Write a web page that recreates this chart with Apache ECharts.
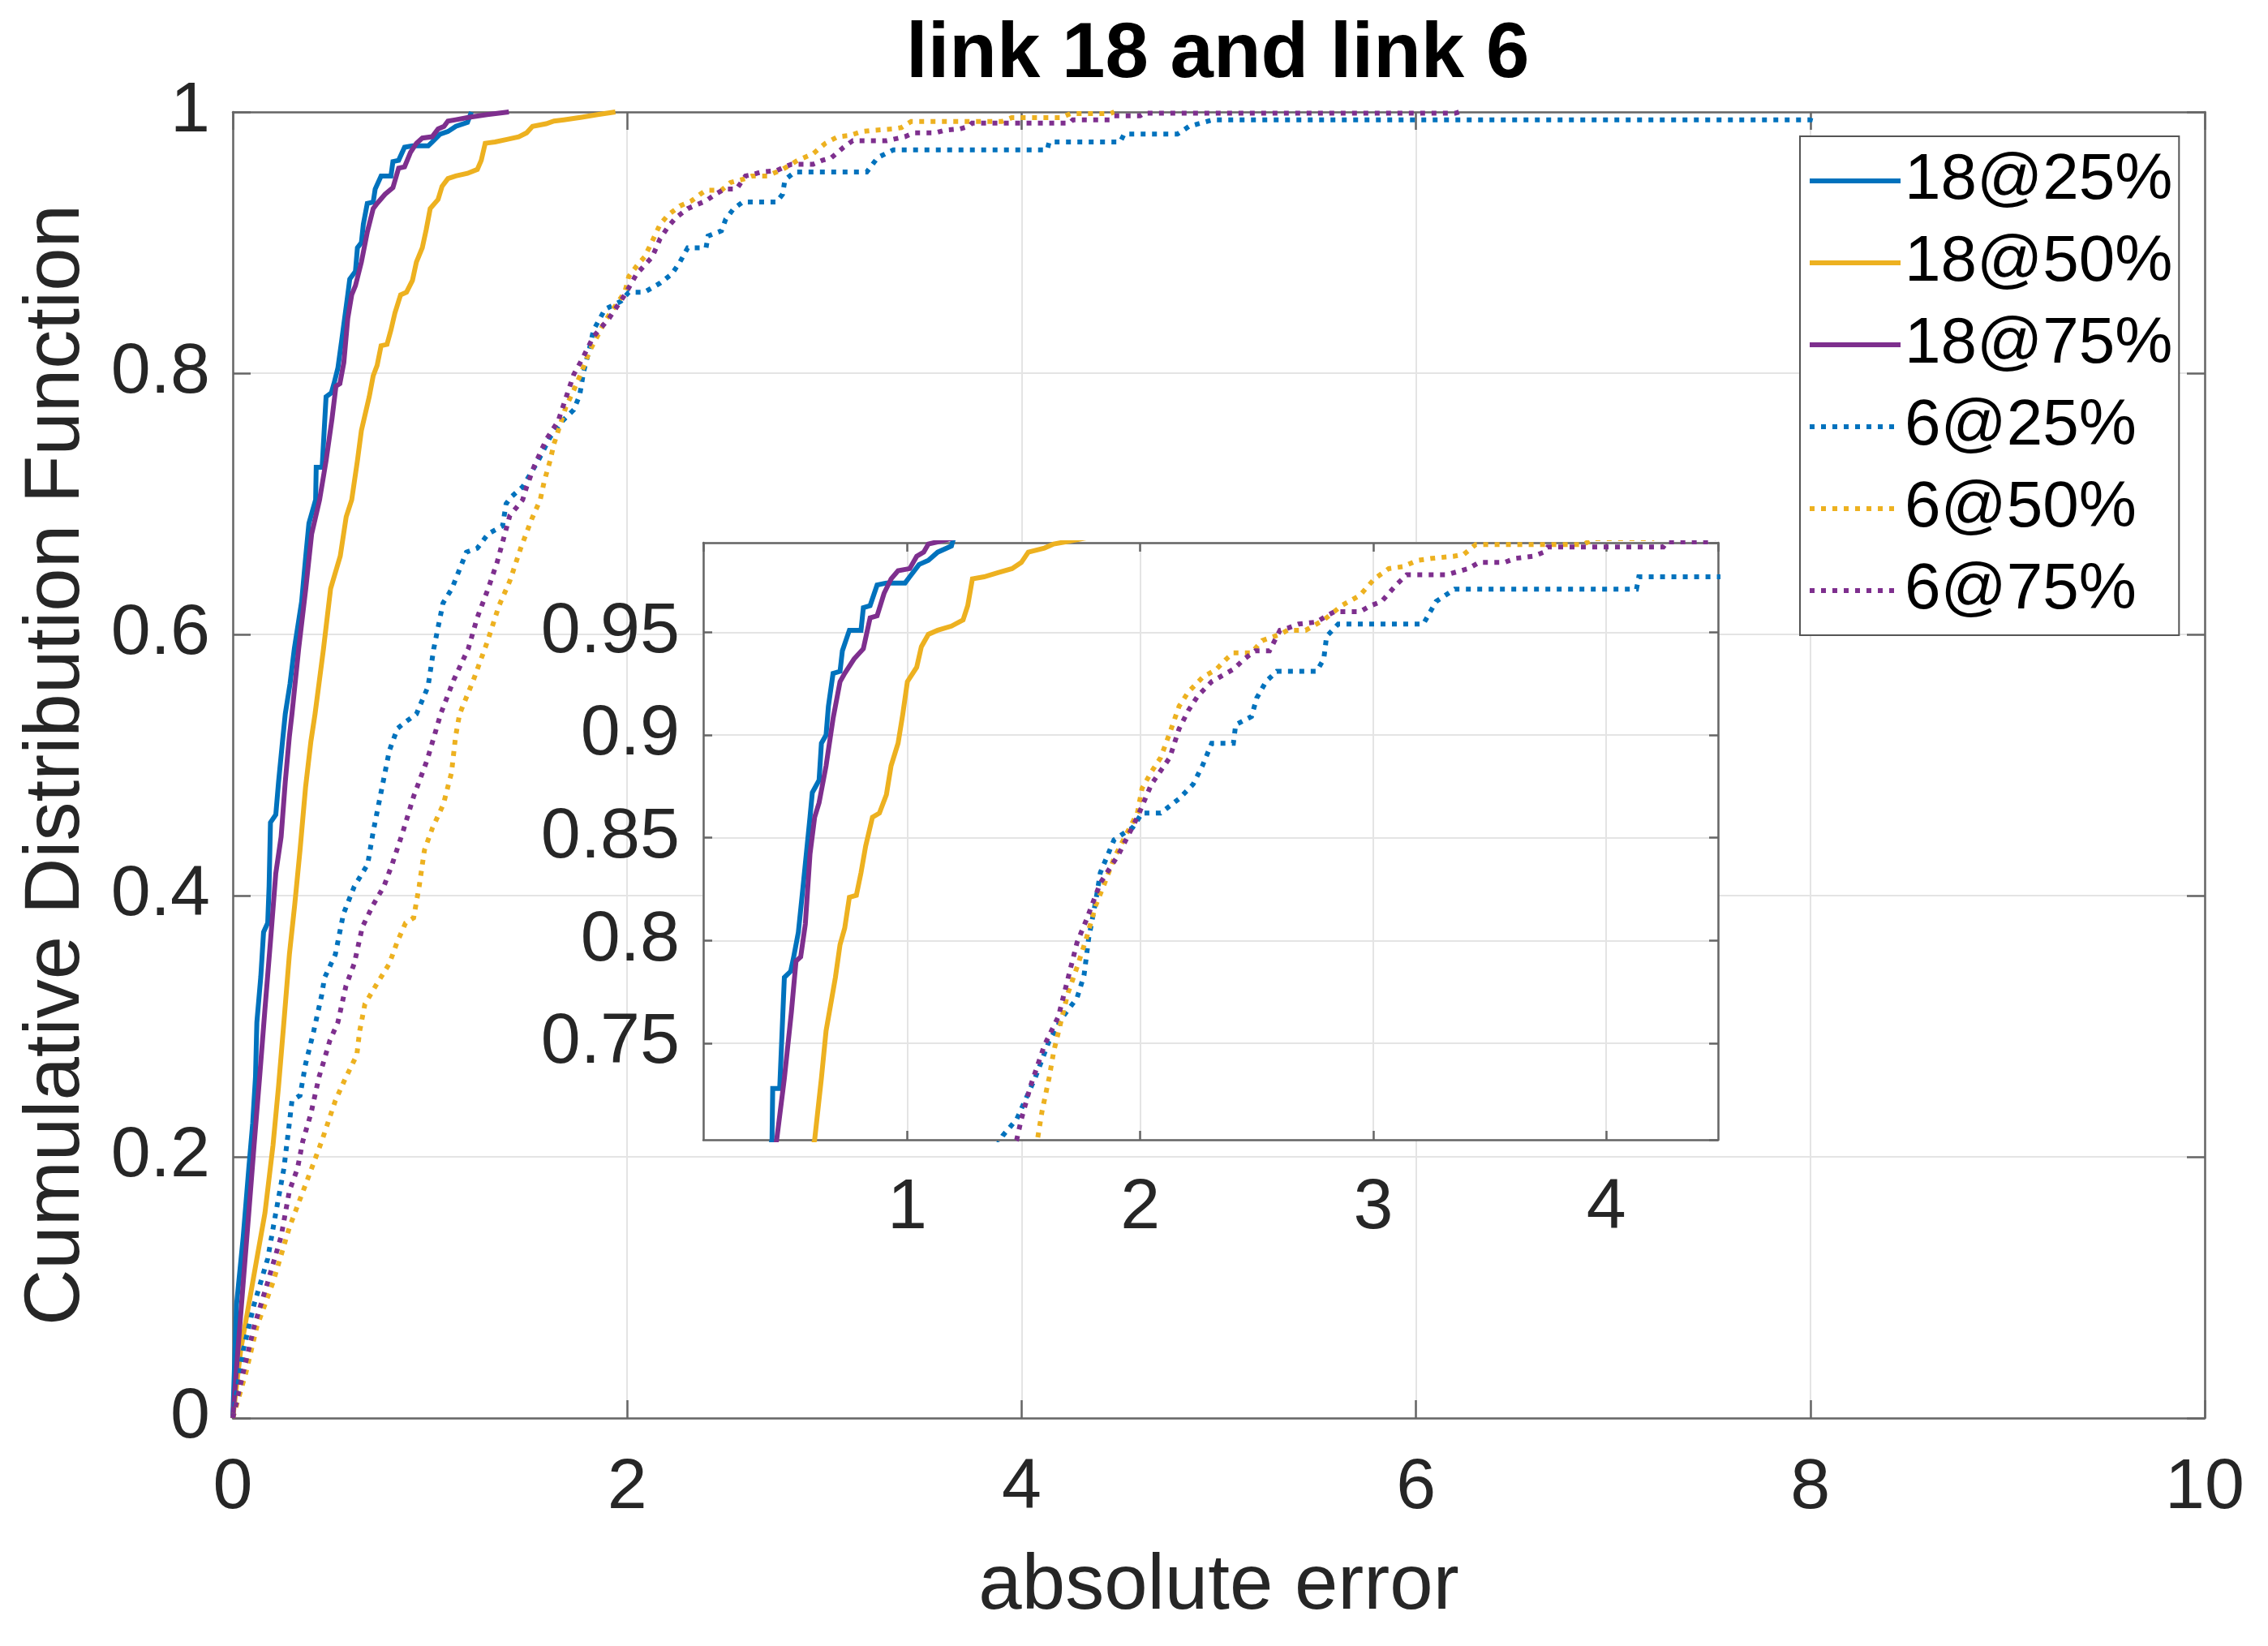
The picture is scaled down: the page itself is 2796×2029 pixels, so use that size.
<!DOCTYPE html>
<html>
<head>
<meta charset="utf-8">
<script src="https://cdn.jsdelivr.net/npm/echarts@6/dist/echarts.min.js"></script>
<style>html,body{margin:0;padding:0;background:#fff}#c{width:2796px;height:2029px}</style>
</head>
<body>
<div id="c"></div>
<script>
// ---- data (absolute error, CDF) ----
const seriesNames = ['18@25%', '18@50%', '18@75%', '6@25%', '6@50%', '6@75%'];

const cdf18at25 = [[0,0],[0.019,0.087],[0.053,0.139],[0.081,0.191],[0.101,0.226],[0.115,0.261],[0.122,0.303],[0.142,0.338],[0.156,0.372],[0.177,0.379],[0.184,0.407],[0.191,0.456],[0.218,0.462],[0.232,0.487],[0.252,0.518],[0.266,0.539],[0.29,0.562],[0.312,0.589],[0.349,0.625],[0.37,0.66],[0.386,0.685],[0.42,0.703],[0.423,0.728],[0.453,0.728],[0.473,0.782],[0.50,0.785],[0.513,0.792],[0.533,0.804],[0.553,0.826],[0.583,0.86],[0.593,0.872],[0.622,0.878],[0.632,0.896],[0.652,0.90],[0.662,0.914],[0.682,0.930],[0.712,0.931],[0.722,0.941],[0.752,0.951],[0.802,0.951],[0.812,0.962],[0.841,0.963],[0.871,0.973],[0.911,0.974],[0.991,0.974],[1.011,0.977],[1.051,0.983],[1.091,0.985],[1.131,0.989],[1.19,0.992],[1.21,1.0]];

const cdf18at50 = [[0,0],[0.04,0.052],[0.081,0.087],[0.122,0.122],[0.163,0.157],[0.204,0.209],[0.232,0.254],[0.259,0.303],[0.287,0.355],[0.314,0.393],[0.341,0.435],[0.369,0.483],[0.396,0.518],[0.417,0.539],[0.46,0.589],[0.496,0.635],[0.545,0.66],[0.575,0.69],[0.603,0.703],[0.632,0.733],[0.652,0.756],[0.692,0.782],[0.712,0.798],[0.732,0.806],[0.752,0.821],[0.782,0.822],[0.802,0.833],[0.822,0.846],[0.851,0.86],[0.881,0.862],[0.911,0.871],[0.931,0.885],[0.961,0.896],[0.981,0.91],[1.001,0.926],[1.041,0.933],[1.061,0.943],[1.091,0.949],[1.131,0.951],[1.19,0.953],[1.24,0.956],[1.26,0.963],[1.28,0.976],[1.33,0.977],[1.39,0.979],[1.45,0.981],[1.49,0.984],[1.52,0.989],[1.589,0.991],[1.629,0.993],[1.679,0.994],[1.77,0.996],[1.85,0.998],[1.94,1.0]];

const cdf18at75 = [[0,0],[0.026,0.052],[0.053,0.104],[0.081,0.157],[0.108,0.209],[0.136,0.261],[0.163,0.313],[0.191,0.365],[0.218,0.417],[0.245,0.445],[0.266,0.487],[0.287,0.522],[0.300,0.539],[0.334,0.589],[0.37,0.635],[0.40,0.677],[0.44,0.703],[0.473,0.733],[0.503,0.765],[0.523,0.79],[0.543,0.792],[0.563,0.808],[0.583,0.842],[0.603,0.86],[0.622,0.867],[0.652,0.885],[0.682,0.908],[0.712,0.926],[0.732,0.93],[0.772,0.937],[0.812,0.942],[0.841,0.957],[0.871,0.958],[0.901,0.969],[0.931,0.976],[0.961,0.98],[1.011,0.981],[1.041,0.987],[1.071,0.989],[1.091,0.993],[1.13,0.994],[1.2,0.996],[1.29,0.998],[1.40,1.0]];

const cdf6at25 = [[0,0],[0.053,0.052],[0.108,0.087],[0.177,0.122],[0.218,0.157],[0.259,0.191],[0.287,0.226],[0.30,0.243],[0.341,0.247],[0.369,0.271],[0.41,0.296],[0.451,0.324],[0.465,0.337],[0.52,0.355],[0.561,0.386],[0.616,0.407],[0.684,0.424],[0.712,0.449],[0.753,0.48],[0.794,0.511],[0.835,0.528],[0.876,0.533],[0.931,0.539],[0.99,0.56],[1.019,0.589],[1.066,0.624],[1.111,0.635],[1.185,0.663],[1.24,0.666],[1.295,0.677],[1.368,0.683],[1.386,0.70],[1.41,0.705],[1.47,0.713],[1.549,0.733],[1.609,0.751],[1.669,0.763],[1.729,0.772],[1.759,0.783],[1.779,0.801],[1.809,0.819],[1.829,0.833],[1.888,0.849],[1.968,0.855],[2.008,0.862],[2.088,0.862],[2.167,0.869],[2.227,0.876],[2.267,0.885],[2.307,0.896],[2.40,0.896],[2.41,0.905],[2.478,0.909],[2.50,0.918],[2.54,0.926],[2.586,0.931],[2.757,0.931],[2.788,0.937],[2.80,0.948],[2.85,0.954],[3.215,0.954],[3.27,0.965],[3.35,0.971],[4.13,0.971],[4.14,0.977],[4.50,0.977],[4.52,0.983],[4.79,0.983],[4.85,0.989],[4.97,0.994],[8.0,0.994],[8.01,1.0]];

const cdf6at50 = [[0,0],[0.067,0.035],[0.122,0.07],[0.204,0.104],[0.287,0.146],[0.382,0.184],[0.451,0.212],[0.52,0.243],[0.574,0.261],[0.629,0.278],[0.643,0.296],[0.67,0.317],[0.725,0.331],[0.794,0.348],[0.835,0.365],[0.876,0.379],[0.917,0.383],[0.945,0.407],[0.972,0.435],[1.013,0.452],[1.068,0.47],[1.109,0.494],[1.13,0.522],[1.15,0.539],[1.22,0.565],[1.29,0.594],[1.35,0.622],[1.405,0.641],[1.46,0.666],[1.515,0.688],[1.559,0.703],[1.579,0.717],[1.609,0.733],[1.629,0.746],[1.659,0.76],[1.689,0.774],[1.729,0.787],[1.769,0.801],[1.809,0.817],[1.848,0.828],[1.888,0.84],[1.928,0.849],[1.988,0.862],[2.008,0.874],[2.048,0.882],[2.088,0.889],[2.127,0.901],[2.167,0.914],[2.207,0.921],[2.267,0.928],[2.327,0.932],[2.37,0.937],[2.40,0.94],[2.478,0.94],[2.524,0.946],[2.60,0.949],[2.633,0.951],[2.71,0.951],[2.788,0.956],[2.865,0.963],[2.943,0.968],[3.005,0.976],[3.067,0.981],[3.129,0.982],[3.19,0.985],[3.253,0.986],[3.345,0.987],[3.39,0.988],[3.44,0.9927],[3.9,0.9927],[3.95,0.9956],[4.2,0.9956],[4.25,0.9988],[4.45,0.9988],[4.47,1.0]];

const cdf6at75 = [[0,0],[0.053,0.035],[0.108,0.07],[0.177,0.104],[0.245,0.139],[0.287,0.174],[0.328,0.191],[0.355,0.212],[0.396,0.233],[0.437,0.261],[0.465,0.275],[0.492,0.289],[0.533,0.303],[0.574,0.331],[0.616,0.348],[0.657,0.376],[0.712,0.393],[0.766,0.407],[0.808,0.424],[0.863,0.449],[0.917,0.476],[0.986,0.504],[1.027,0.525],[1.054,0.539],[1.12,0.565],[1.194,0.589],[1.24,0.613],[1.295,0.635],[1.34,0.655],[1.405,0.691],[1.47,0.703],[1.49,0.713],[1.529,0.729],[1.589,0.749],[1.649,0.763],[1.689,0.781],[1.729,0.799],[1.769,0.81],[1.829,0.828],[1.908,0.842],[1.988,0.86],[2.048,0.876],[2.127,0.889],[2.167,0.903],[2.207,0.912],[2.247,0.919],[2.307,0.926],[2.40,0.932],[2.447,0.937],[2.494,0.941],[2.555,0.941],[2.60,0.951],[2.633,0.952],[2.68,0.954],[2.757,0.955],[2.80,0.958],[2.834,0.96],[2.943,0.96],[2.99,0.963],[3.036,0.965],[3.098,0.973],[3.144,0.978],[3.315,0.978],[3.408,0.981],[3.455,0.984],[3.563,0.984],[3.61,0.986],[3.687,0.987],[3.733,0.989],[3.749,0.9915],[4.245,0.9915],[4.26,0.994],[4.45,0.994],[4.47,0.997],[4.6,0.997],[4.62,0.999],[6.2,0.999],[6.22,1.0]];

const seriesData = [cdf18at25, cdf18at50, cdf18at75, cdf6at25, cdf6at50, cdf6at75];

// axis ranges
const mainX = {min: 0, max: 10, interval: 2};
const mainY = {min: 0, max: 1, interval: 0.2};
const insetX = {min: 0.125, max: 4.48, splitNumber: 4};
const insetY = {min: 0.703, max: 0.9936, splitNumber: 6};

// ---- styles ----
const FONT = '"Liberation Sans", Arial, Helvetica, sans-serif';
const COLORS = ['#0072BD', '#EDB120', '#7E2F8E', '#0072BD', '#EDB120', '#7E2F8E'];
const LINE_TYPES = ['solid', 'solid', 'solid', [6, 8], [6, 8], [6, 8]];
const LINE_WIDTHS = [6, 6, 6, 6, 6, 6];
const AXIS_COLOR = '#666666';
const axisLine = {show: true, onZero: false, lineStyle: {color: AXIS_COLOR, width: 2.5}};
const gridLine = {show: true, lineStyle: {color: '#e4e4e4', width: 2}};
const labelStyle = {fontSize: 88, color: '#262626', fontFamily: FONT};

function boxAxis(base, pos, grid, tickLen, z) {
  return Object.assign({
    type: 'value', gridIndex: grid, position: pos, z: z,
    axisLine: axisLine,
    axisTick: {show: true, inside: true, length: tickLen, lineStyle: {color: AXIS_COLOR, width: 2.5}},
    axisLabel: {show: false},
    splitLine: {show: false}
  }, base);
}

const xAxes = [
  Object.assign(boxAxis(mainX, 'bottom', 0, 22, 0), {
    axisLabel: Object.assign({show: true, margin: 43}, labelStyle),
    splitLine: gridLine,
    name: 'absolute error', nameLocation: 'middle', nameGap: 161,
    nameTextStyle: {fontSize: 96, color: '#262626', fontFamily: FONT}
  }),
  boxAxis(mainX, 'top', 0, 22, 0),
  Object.assign(boxAxis(insetX, 'bottom', 1, 11, 4), {
    axisLabel: Object.assign({show: true, margin: 41, showMinLabel: false, showMaxLabel: false}, labelStyle),
    splitLine: gridLine
  }),
  boxAxis(insetX, 'top', 1, 11, 4)
];

const yAxes = [
  Object.assign(boxAxis(mainY, 'left', 0, 22, 0), {
    axisLabel: Object.assign({show: true, margin: 28}, labelStyle),
    splitLine: gridLine,
    name: 'Cumulative Distribution Function', nameLocation: 'middle', nameGap: 168, nameRotate: 90,
    nameTextStyle: {fontSize: 96, color: '#262626', fontFamily: FONT}
  }),
  boxAxis(mainY, 'right', 0, 22, 0),
  Object.assign(boxAxis(insetY, 'left', 1, 11, 4), {
    axisLabel: Object.assign({show: true, margin: 29, showMinLabel: false, showMaxLabel: false}, labelStyle),
    splitLine: gridLine
  }),
  boxAxis(insetY, 'right', 1, 11, 4)
];

const series = [];
seriesNames.forEach((name, i) => {
  const base = {
    name: name, type: 'line', data: seriesData[i], symbol: 'none', showSymbol: false,
    lineStyle: {color: COLORS[i], width: LINE_WIDTHS[i], type: LINE_TYPES[i], cap: 'butt', join: 'miter'},
    itemStyle: {color: COLORS[i]},
    clip: true, animation: false
  };
  series.push(Object.assign({}, base, {xAxisIndex: 0, yAxisIndex: 0, z: 2}));
  series.push(Object.assign({}, base, {xAxisIndex: 2, yAxisIndex: 2, z: 5}));
});

const chart = echarts.init(document.getElementById('c'), null, {renderer: 'canvas', width: 2796, height: 2029});
chart.setOption({
  backgroundColor: '#ffffff',
  animation: false,
  title: {
    text: 'link 18 and link 6', left: 1117, top: 21, padding: 0,
    textStyle: {fontSize: 96, fontWeight: 'bold', color: '#000', fontFamily: FONT}
  },
  legend: {
    orient: 'vertical', left: 2219, top: 168, data: seriesNames,
    itemWidth: 112, itemHeight: 2, itemGap: 21, padding: [15, 8, 15, 9],
    itemStyle: {opacity: 0, borderWidth: 0},
    lineStyle: {width: 'inherit', type: 'inherit', color: 'inherit', cap: 'butt'},
    backgroundColor: '#ffffff', borderColor: '#555555', borderWidth: 2,
    textStyle: {fontSize: 80, color: '#000', fontFamily: FONT, lineHeight: 80},
    selectedMode: false, z: 10
  },
  grid: [
    {left: 287, top: 138, width: 2431, height: 1610, show: false},
    {left: 867, top: 669, width: 1251, height: 736, show: true, backgroundColor: '#ffffff', borderWidth: 0, z: 3}
  ],
  xAxis: xAxes,
  yAxis: yAxes,
  series: series
});
</script>
</body>
</html>
